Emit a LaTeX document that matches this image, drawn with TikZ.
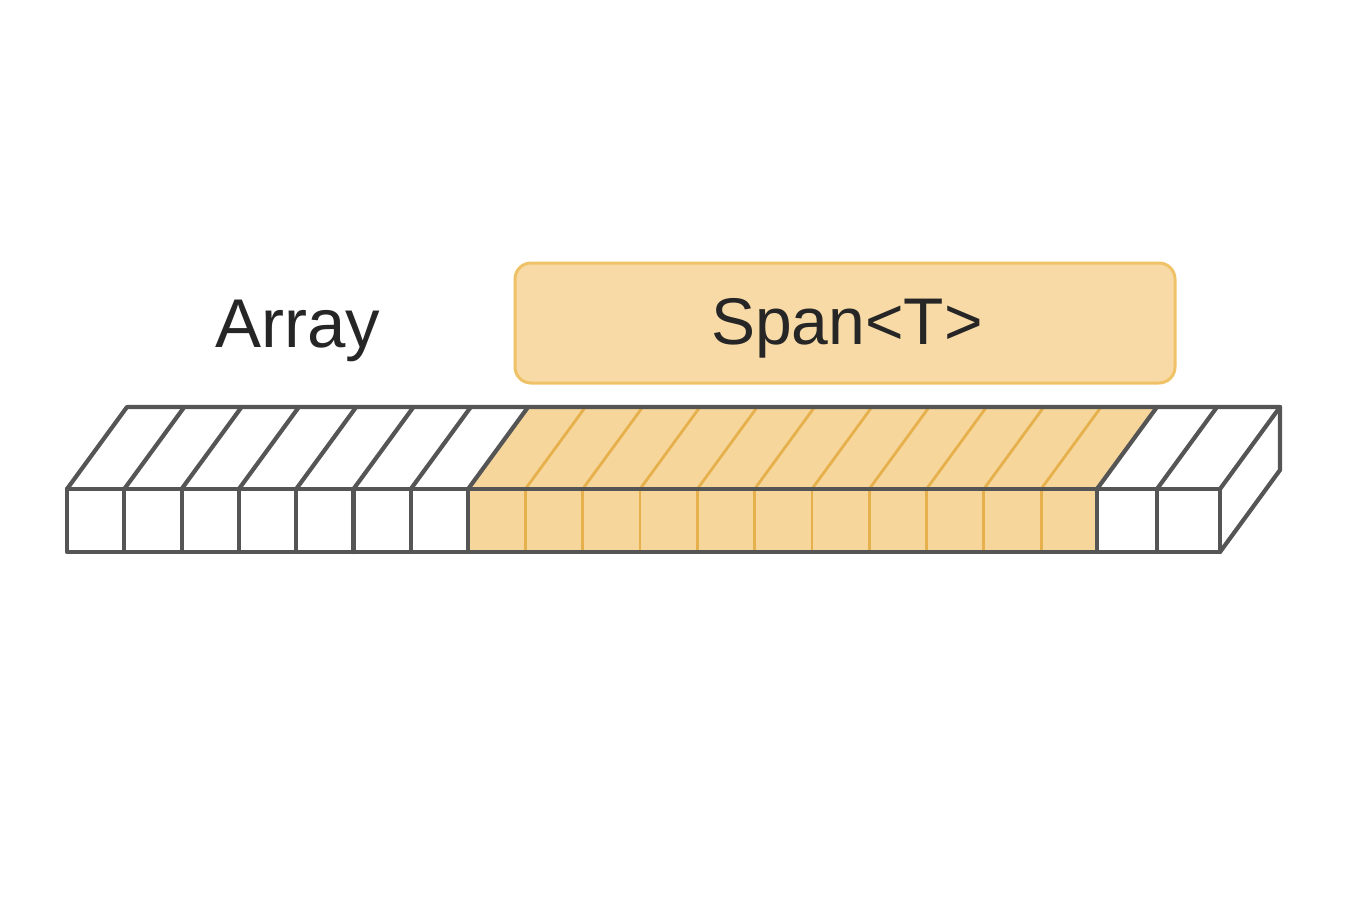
\documentclass[tikz,border=0pt]{standalone}
\usepackage{fontspec}
\setmainfont{Liberation Sans}
\definecolor{edgegray}{HTML}{555555}
\definecolor{cellfill}{HTML}{F7D69C}
\definecolor{cellline}{HTML}{E6B04C}
\definecolor{spanfill}{HTML}{F8DAA6}
\definecolor{spanline}{HTML}{F0C267}
\definecolor{txt}{HTML}{262626}
\tikzset{
  grayline/.style={draw=edgegray, line width=4.2pt},
  orangeline/.style={draw=cellline, line width=2.8pt},
  spanbox/.style={draw=spanline, fill=spanfill, line width=3pt, rounded corners=16pt,
    minimum width=660pt, minimum height=120pt, inner sep=0pt,
    text=txt, font=\fontsize{66}{78}\selectfont},
  labeltext/.style={text=txt, font=\fontsize{69}{80}\selectfont, inner sep=0pt}
}
\begin{document}
\begin{tikzpicture}[x=1pt,y=-1pt, line join=round, line cap=round]
\useasboundingbox (0,0) rectangle (1358,905);
% orange region
\fill[cellfill] (468,489) rectangle (1097,552);
\fill[cellfill] (468,489) -- (528,407) -- (1157,407) -- (1097,489) -- cycle;
\foreach \i in {8,...,17}{
  \pgfmathsetmacro\xx{67+\i*57.3}
  \draw[orangeline] (\xx,491) -- (\xx,550);
  \draw[orangeline] (\xx,489) -- ++(60,-82);
}
% gray structure
\draw[grayline] (67,489) rectangle (1220,552);
\draw[grayline] (67,489) -- (127,407) -- (1280,407) -- (1280,470) -- (1220,552);
\draw[grayline] (1220,489) -- (1280,407);
\foreach \xx in {124.3,181.6,238.9,296.2,353.5,410.8,468.1,1097,1157}{
  \draw[grayline] (\xx,489) -- (\xx,552);
  \draw[grayline] (\xx,489) -- ++(60,-82);
}
% labels
\node[labeltext] (array) at (298,331) {Array};
\node[spanbox] (span) at (845,323) {};
\node[text=txt, font=\fontsize{66}{78}\selectfont, inner sep=0pt] (spanlabel) at (847,328) {Span<T>};
\end{tikzpicture}
\end{document}
